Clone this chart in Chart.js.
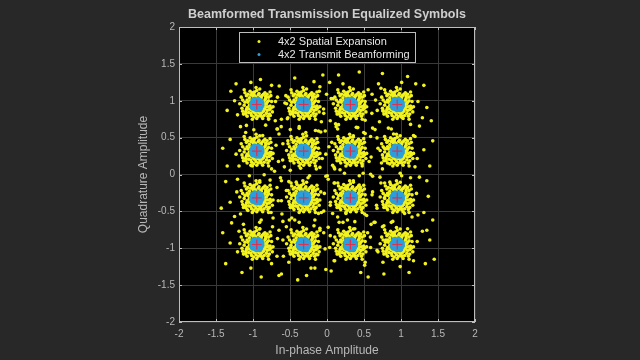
<!DOCTYPE html>
<html>
<head>
<meta charset="utf-8">
<script src="https://cdn.jsdelivr.net/npm/chart.js@4.4.1/dist/chart.umd.min.js"></script>
<style>
  html, body { margin: 0; padding: 0; background: #282828; }
  #wrap { width: 640px; height: 360px; }
</style>
</head>
<body>
<div id="wrap"><canvas id="chart" width="640" height="360"></canvas></div>
<script>
// 16-QAM reference levels (in-phase columns, quadrature rows)
const levelsI = [-0.949, -0.316, 0.316, 0.949];
const levelsQ = [0.949, 0.316, -0.316, -0.949];

// dense yellow blob around each symbol (hundredths of amplitude)
const coreExpansion = [
  [10,0],[14,3],[18,-2],[12,8],[16,10],[7,12],[3,15],[-2,11],[-6,16],[-10,9],
  [-14,12],[-12,3],[-17,-1],[-19,6],[-11,-6],[-15,-10],[-8,-12],[-4,-17],[1,-10],[5,-14],
  [9,-9],[13,-12],[17,-7],[20,4],[0,19],[-9,18],[11,16],[-20,-5],[15,-16],[-6,-20],
  [8,-19],[19,12],[-16,16],[-13,-16],[22,-3],[4,21],[-21,10],[6,9],[-9,-2],[2,-16],
  [-3,8],[12,-3],[-5,-9],[16,-20],[-18,-13],[21,-10],[-1,23],[-23,1],[18,17],[-17,20],
  [9,3],[8,-5],[11,6],[5,10],[-1,9],[-5,11],[-9,5],[-10,-1],[-8,-7],[-3,-11],
  [3,-10],[7,-11],[11,-6],[13,1],[12,11],[2,13],[-8,13],[-13,6],[-13,-4],[-11,-11],
  [-1,-14],[6,-16],[14,-8],[16,5],[9,14],[-3,17],[-14,-7],[10,-15],[-7,-15],[15,-3],
  [-12,14],[14,14],[-16,3],[4,-12],[-4,14],[17,-13],[-15,-13],[0,-19],[19,-5],[-19,-9]
];

// tight blue cloud (hundredths)
const coreBeamforming = [
  [0,0],[4,2],[-3,3],[2,-4],[-4,-2],[6,-3],[-6,1],[1,6],[-2,-6],[6,4],
  [-6,-4],[3,6],[-5,5],[7,-1],[4,-6],[-7,2],[0,-7],[2,7],[-3,-3],[3,-1],
  [1,2],[-1,-2],[5,5],[-5,-5],[5,-5],[-5,6],[7,2],[-7,-2],[4,-7],[-3,7],
  [0,4],[0,-4],[4,0],[-4,0]
];

// scattered yellow symbols for each symbol, row by row (hundredths)
const strayExpansion = [
  [[-30,5],[-26,-14],[25,-22],[28,10],[-8,30],[12,-28],[-35,18],[33,-30],[5,34],[-22,-30],[38,2],[20,26],[-40,-8],[-15,-38],[30,-40],[42,-18],[-28,28],[8,-42]],
  [[27,-6],[-24,12],[-30,-20],[22,24],[-6,-30],[14,31],[36,-22],[-38,4],[31,14],[-18,-34],[3,-38],[-33,25],[40,8],[20,-36],[-12,36],[-45,-15],[44,-30],[26,40]],
  [[-26,8],[29,-12],[24,20],[-20,-26],[8,-31],[-10,28],[34,6],[-36,-12],[18,-38],[-28,30],[38,28],[-42,18],[4,-44],[30,-32],[-16,40],[44,-8],[-34,-36],[12,44]],
  [[28,4],[-27,-8],[-22,22],[18,-27],[6,30],[-12,-32],[34,-18],[-34,14],[25,28],[-5,-40],[40,-4],[-30,-34],[14,38],[36,26],[-44,0],[22,-42],[46,-22],[-20,42]],
  [[-28,-4],[26,8],[-24,-20],[20,-24],[-4,29],[10,-32],[-36,16],[35,-12],[-14,35],[28,30],[-40,-20],[4,-40],[42,14],[-26,-38],[32,-36],[-46,4],[16,44],[48,-6]],
  [[30,-4],[-28,10],[22,-22],[-18,-26],[-6,31],[16,28],[-34,-14],[38,12],[6,-36],[-36,30],[30,-34],[-10,-42],[42,-24],[24,40],[-44,-2],[-22,44],[46,30],[-30,-40]],
  [[-29,6],[28,-8],[20,24],[-22,-22],[-8,-30],[10,32],[-38,-10],[36,18],[-16,36],[30,-34],[4,-40],[-40,26],[42,-16],[-30,-38],[20,42],[46,4],[-46,-24],[12,-46]],
  [[27,-10],[-26,4],[24,20],[-20,-24],[4,-30],[-8,30],[36,2],[-36,20],[18,-36],[30,34],[-38,-14],[44,-20],[-10,-42],[-24,40],[48,14],[6,46],[-46,-30],[40,-40]],
  [[-27,8],[29,-4],[-22,-22],[18,24],[6,-30],[-10,30],[-36,-6],[34,-22],[-18,-36],[24,36],[-42,22],[40,10],[4,-42],[-34,-34],[44,-30],[-8,44],[-48,-14],[30,-44]],
  [[28,6],[-30,-4],[-20,22],[24,-20],[8,30],[-12,-30],[36,-10],[-36,14],[14,-38],[-28,-32],[32,30],[-4,40],[42,20],[-44,-20],[22,-44],[-26,42],[46,-26],[-48,8]],
  [[-27,-6],[30,8],[-22,20],[22,-24],[-4,-30],[12,30],[-36,-18],[36,-14],[-14,38],[28,-36],[-40,8],[6,-42],[40,28],[-30,-40],[-24,44],[46,0],[16,46],[-48,-30]],
  [[26,6],[-28,-10],[20,-26],[-22,20],[6,30],[-6,-32],[36,-20],[-34,4],[30,28],[-18,-38],[42,2],[-36,32],[14,-42],[-44,-22],[24,42],[48,-30],[-10,46],[40,-44]],
  [[-26,-10],[28,8],[-24,18],[20,-26],[4,30],[-8,-32],[-36,2],[36,-16],[-20,-38],[22,36],[-42,-26],[40,24],[6,-44],[-30,38],[46,-4],[-46,16],[30,-42],[-12,46]],
  [[29,-6],[-28,6],[22,22],[-20,-24],[-6,30],[10,-32],[36,12],[-36,-16],[-16,36],[30,-34],[-42,24],[4,-42],[42,-22],[-30,-40],[20,42],[-48,-2],[48,30],[-8,-48]],
  [[-28,-4],[27,10],[-22,-22],[20,-24],[6,31],[-10,30],[36,-8],[-36,16],[14,-38],[-26,-36],[32,30],[-6,42],[44,-24],[-44,-14],[24,-44],[-24,42],[48,6],[-48,-32]],
  [[27,4],[-26,-10],[-20,24],[22,-22],[4,-30],[-8,30],[34,18],[-36,-4],[16,-38],[-30,30],[38,-26],[-18,-40],[10,42],[44,6],[-44,-28],[28,40],[50,-20],[-40,16]]
];

const tickValues = [-2, -1.5, -1, -0.5, 0, 0.5, 1, 1.5, 2];

const titleText = 'Beamformed Transmission Equalized Symbols';
const legendLabels = ['4x2 Spatial Expansion', '4x2 Transmit Beamforming'];
const colorExpansion = '#f2f21e';
const colorBeamforming = '#2b9fdc';
const colorReference = '#e0304c';
const textColor = '#b8b8b8';
const fontFamily = '"Liberation Sans", Arial, Helvetica, sans-serif';

// build point lists from the offsets
const symbols = [];
levelsQ.forEach(q => levelsI.forEach(i => symbols.push({x: i, y: q})));

const expansionPoints = [];
const beamformingPoints = [];
symbols.forEach((s, k) => {
  coreExpansion.concat(strayExpansion[k]).forEach(([dx, dy]) => {
    expansionPoints.push({x: s.x + dx / 100, y: s.y + dy / 100});
  });
  coreBeamforming.forEach(([dx, dy]) => {
    beamformingPoints.push({x: s.x + dx / 100, y: s.y + dy / 100});
  });
});

const frame = {
  id: 'frame',
  beforeDraw(chart) {
    const {ctx, chartArea: a} = chart;
    ctx.save();
    ctx.fillStyle = '#282828';
    ctx.fillRect(0, 0, chart.width, chart.height);
    ctx.fillStyle = '#000';
    ctx.fillRect(a.left, a.top, a.right - a.left, a.bottom - a.top);
    ctx.restore();
  },
  afterDraw(chart) {
    const {ctx, chartArea: a, scales} = chart;
    ctx.save();
    // axes box + inward ticks
    ctx.strokeStyle = '#bdbdbd';
    ctx.lineWidth = 1;
    ctx.strokeRect(a.left + 0.5, a.top + 0.5, a.right - a.left - 1, a.bottom - a.top - 1);
    ctx.beginPath();
    tickValues.forEach(v => {
      const px = Math.round(scales.x.getPixelForValue(v)) + 0.5;
      const py = Math.round(scales.y.getPixelForValue(v)) + 0.5;
      ctx.moveTo(px, a.bottom); ctx.lineTo(px, a.bottom - 3);
      ctx.moveTo(px, a.top); ctx.lineTo(px, a.top + 3);
      ctx.moveTo(a.left, py); ctx.lineTo(a.left + 3, py);
      ctx.moveTo(a.right, py); ctx.lineTo(a.right - 3, py);
    });
    ctx.stroke();

    // title
    ctx.fillStyle = '#cfcfcf';
    ctx.font = 'bold 12.5px ' + fontFamily;
    ctx.textAlign = 'center';
    ctx.textBaseline = 'middle';
    ctx.fillText(titleText, (a.left + a.right) / 2, 15);

    // legend box
    const lx = 239, ly = 32, lw = 176, lh = 30;
    ctx.fillStyle = '#000';
    ctx.fillRect(lx, ly, lw, lh);
    ctx.strokeStyle = '#bdbdbd';
    ctx.strokeRect(lx + 0.5, ly + 0.5, lw, lh);
    ctx.font = '11px ' + fontFamily;
    ctx.textAlign = 'left';
    [colorExpansion, colorBeamforming].forEach((c, i) => {
      const y = ly + 9.5 + i * 13;
      ctx.fillStyle = c;
      ctx.beginPath();
      ctx.arc(lx + 20, y, 1.5, 0, Math.PI * 2);
      ctx.fill();
      ctx.fillStyle = '#e6e6e6';
      ctx.fillText(legendLabels[i], lx + 39, y);
    });
    ctx.restore();
  }
};

const axisCommon = {
  type: 'linear',
  min: -2,
  max: 2,
  grid: { color: '#3a3a3a', drawTicks: false },
  border: { display: false },
  afterBuildTicks(scale) {
    scale.ticks = tickValues.map(v => ({value: v}));
  }
};

const tickFormat = v => String(v);

new Chart(document.getElementById('chart'), {
  type: 'scatter',
  data: {
    datasets: [
      {
        label: 'Reference',
        data: symbols,
        pointStyle: 'cross',
        pointRadius: 5,
        borderWidth: 1.2,
        borderColor: colorReference,
        backgroundColor: colorReference,
        order: 1
      },
      {
        label: legendLabels[1],
        data: beamformingPoints,
        pointRadius: 2.5,
        borderWidth: 0,
        backgroundColor: colorBeamforming,
        order: 2
      },
      {
        label: legendLabels[0],
        data: expansionPoints,
        pointRadius: 1.8,
        borderWidth: 0,
        backgroundColor: colorExpansion,
        order: 3
      }
    ]
  },
  options: {
    responsive: false,
    animation: false,
    layout: { padding: { left: 130, right: 165, top: 27, bottom: 0 } },
    plugins: { legend: { display: false }, tooltip: { enabled: false }, title: { display: false } },
    scales: {
      x: Object.assign({}, axisCommon, {
        position: 'bottom',
        ticks: { color: textColor, font: { family: fontFamily, size: 10 }, padding: 6, maxRotation: 0, callback: tickFormat },
        title: { display: true, text: 'In-phase Amplitude', color: textColor,
                 font: { family: fontFamily, size: 12 }, padding: { top: 0, bottom: 2 } },
        afterFit(scale) { scale.height = 38; }
      }),
      y: Object.assign({}, axisCommon, {
        position: 'left',
        ticks: { color: textColor, font: { family: fontFamily, size: 10 }, padding: 4, callback: tickFormat },
        title: { display: true, text: 'Quadrature Amplitude', color: textColor,
                 font: { family: fontFamily, size: 12 }, padding: { top: 6, bottom: 0 } },
        afterFit(scale) { scale.width = 49; }
      })
    }
  },
  plugins: [frame]
});
</script>
</body>
</html>
